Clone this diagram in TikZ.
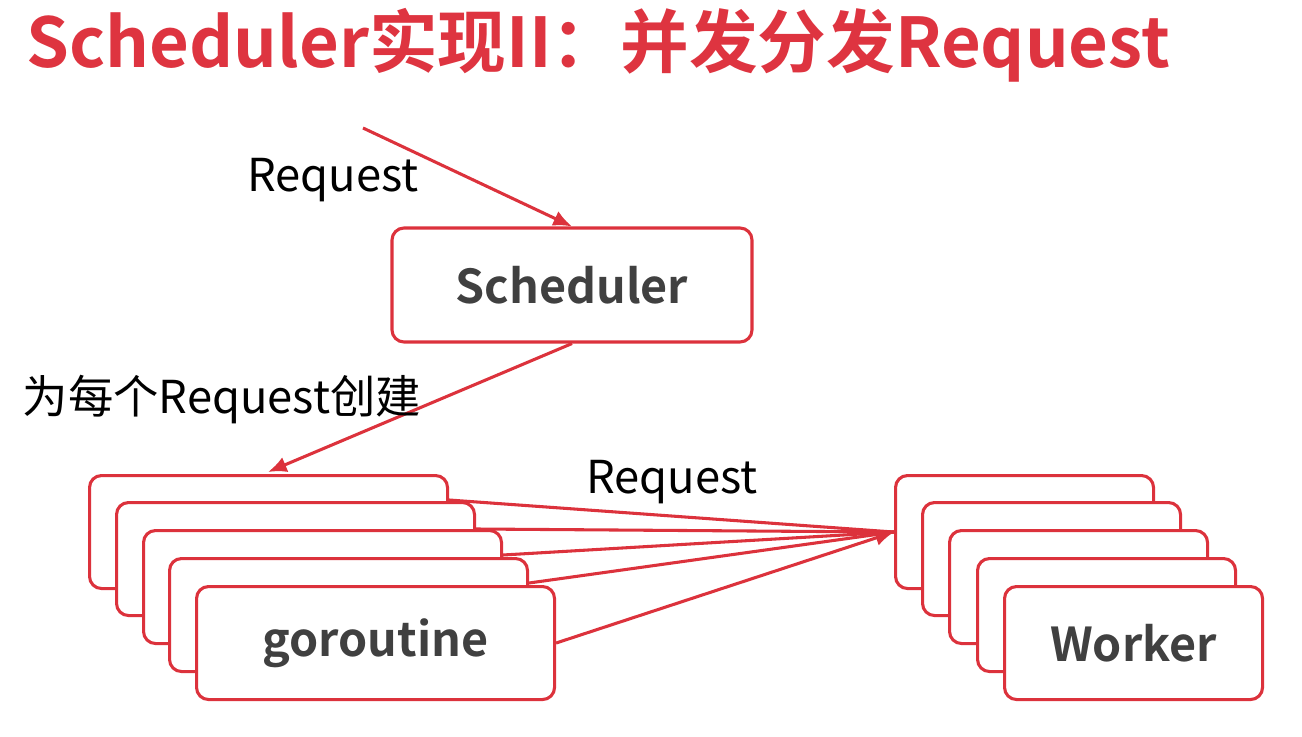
\documentclass[tikz,border=0pt]{standalone}
\usepackage{fontspec}
\setmainfont{Noto Sans CJK SC}[BoldFont={Noto Sans CJK SC Bold}]
\usetikzlibrary{arrows.meta}
\definecolor{tred}{RGB}{222,52,64}
\definecolor{lred}{RGB}{220,50,60}
\definecolor{tgray}{RGB}{64,64,64}
\begin{document}
\begin{tikzpicture}[x=0.75pt,y=-0.75pt,
  box/.style={draw=lred,line width=2.3pt,rounded corners=9pt,fill=white,inner sep=0pt},
  conn/.style={draw=lred,line width=2.3pt},
  arr/.style={conn,-{Latex[length=14pt,width=12pt]}},
  lbl/.style={font=\fontsize{34}{38}\selectfont,text=black},
  big/.style={font=\fontsize{35}{40}\selectfont\bfseries,text=tgray}]
\useasboundingbox (0,0) rectangle (1302,737);
\node[anchor=west,text=tred,font=\fontsize{51.5}{56}\selectfont\bfseries] (title) at (22,45) {Scheduler实现II：并发分发Request};
\node[box,minimum width=360*0.75pt,minimum height=114*0.75pt,big] (s) at (572,285) {Scheduler};
\coordinate (in) at (363,128);
\draw[arr] (in) -- (s.north);
\node[lbl] (l1) at (333,180) {Request};
\foreach \i/\x/\y in {1/88/474,2/115/501,3/142/529,4/168/557} {
  \node[box,anchor=north west,minimum width=358*0.75pt,minimum height=113*0.75pt] (g\i) at (\x,\y) {};
}
\node[box,anchor=north west,minimum width=358*0.75pt,minimum height=113*0.75pt,big] (g5) at (195,585) {goroutine};
\foreach \i/\x/\y in {1/894/474,2/921/501,3/948/529,4/976/557} {
  \node[box,anchor=north west,minimum width=258*0.75pt,minimum height=113*0.75pt] (w\i) at (\x,\y) {};
}
\node[box,anchor=north west,minimum width=258*0.75pt,minimum height=113*0.75pt,big] (w5) at (1003,585) {Worker};
\draw[arr] (s.south) -- (268,472) coordinate (gt);
\node[lbl,anchor=west] (l2) at (18,400) {为每个Request创建};
\draw[conn] ([yshift=-26*0.75pt]g1.north east) -- (w1.west);
\draw[conn] ([yshift=-28*0.75pt]g2.north east) -- (w1.west);
\draw[conn] ([yshift=-26*0.75pt]g3.north east) -- (w1.west);
\draw[conn] ([yshift=-26*0.75pt]g4.north east) -- (w1.west);
\draw[arr] (g5.east) -- (w1.west);
\node[lbl] (l3) at (672,482) {Request};
\end{tikzpicture}
\end{document}
